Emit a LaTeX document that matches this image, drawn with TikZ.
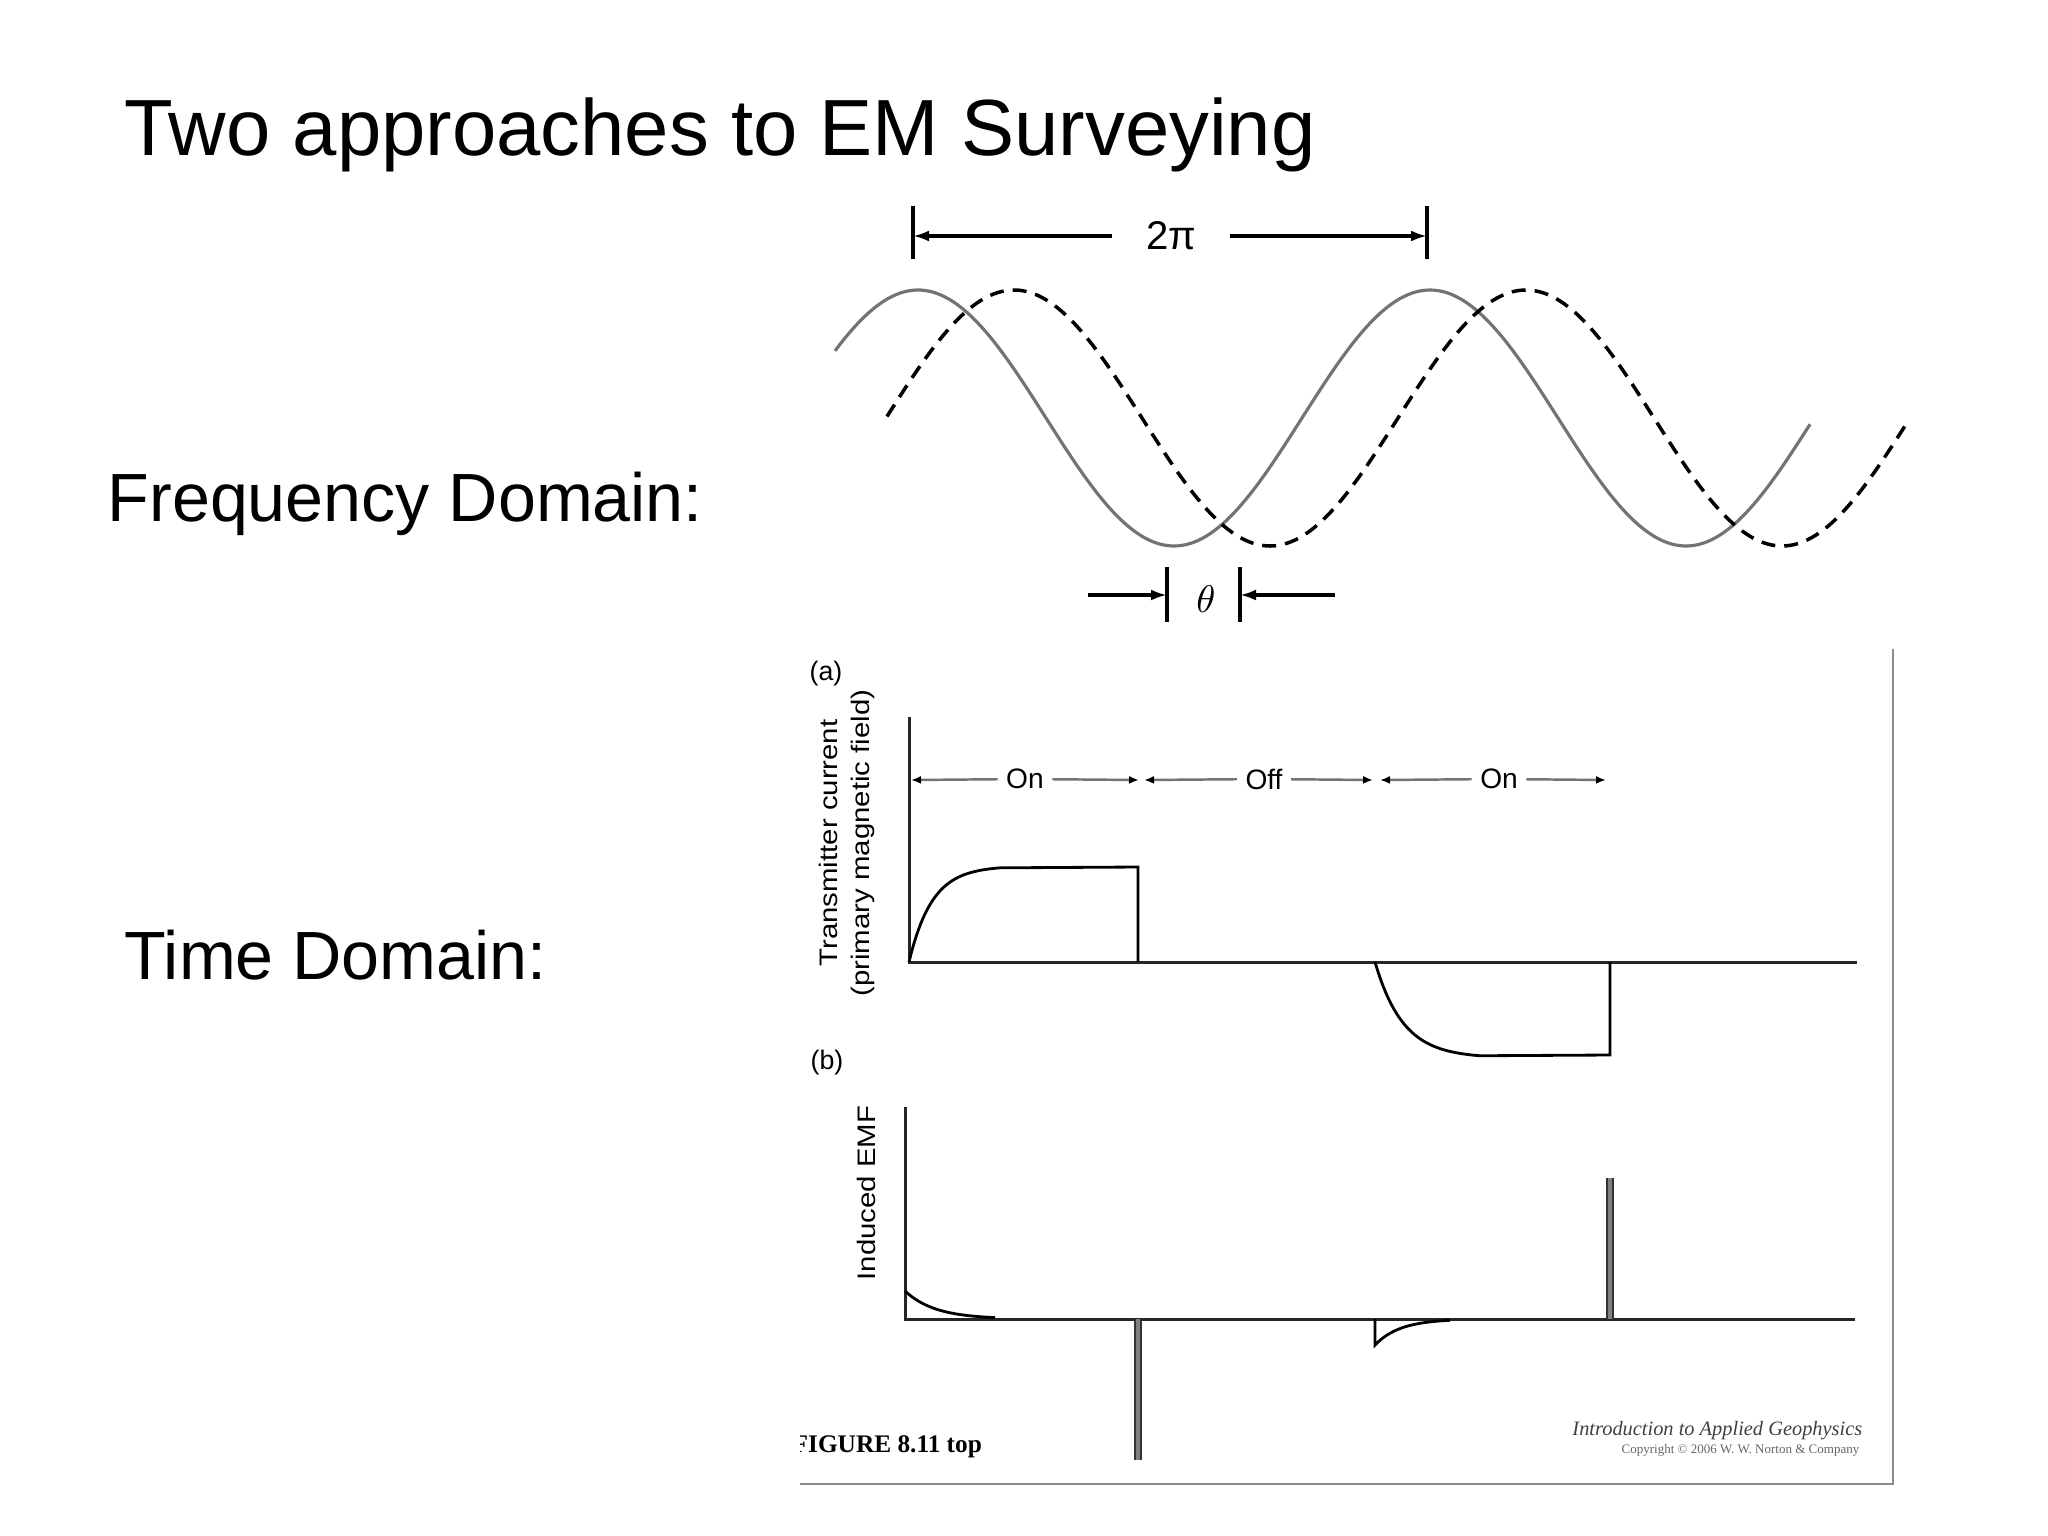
\documentclass[tikz,border=0pt]{standalone}
\usepackage{fontspec}
\setmainfont{Liberation Sans}
\newfontfamily\figserif{Liberation Serif}
\usetikzlibrary{arrows.meta}

\begin{document}
\begin{tikzpicture}[x=0.01cm, y=-0.01cm,
  slidetext/.style={anchor=base west, inner sep=0pt},
  solidwave/.style={draw=black!55, line width=0.9pt},
  dashwave/.style={draw=black, line width=1.0pt, dash pattern=on 0.14cm off 0.09cm},
  dimarrow/.style={line width=0.9pt, -{Latex[length=0.16cm, width=0.11cm]}},
  dimbar/.style={line width=0.9pt},
  axisline/.style={line width=0.85pt, black!85},
  pulse/.style={line width=0.8pt, black},
  spike/.style={line width=0.5pt, black!80, double=black!50, double distance=0.045cm},
  onoff/.style={font=\fontsize{8}{9}\selectfont, inner sep=0.08cm},
  gaparrow/.style={line width=0.7pt, black!55, -{Latex[length=0.1cm, width=0.08cm, color=black]}},
  figlabel/.style={font=\fontsize{7.6}{9}\selectfont, inner sep=0pt},
  framebox/.style={line width=0.8pt, black!45}
]
\path[fill=white] (0,0) rectangle (2048,1536);
\useasboundingbox (0,0) rectangle (2048,1536);

% slide text
\node[slidetext, font=\fontsize{22.65}{27}\selectfont] (title) at (124,155) {Two approaches to EM Surveying};
\node[slidetext, font=\fontsize{19.4}{23}\selectfont] (freq) at (107,521) {Frequency Domain:};
\node[slidetext, font=\fontsize{19.4}{23}\selectfont] (time) at (124,979) {Time Domain:};

% frequency domain: primary and secondary field
\draw[solidwave] plot[domain=835:1810, samples=240] (\x, {418-128*cos(0.703125*(\x-918))});
\draw[dashwave] plot[domain=887:1905, samples=240] (\x, {418-128*cos(0.703125*(\x-1014))});

% period marker
\node[font=\fontsize{11.4}{13}\selectfont, inner xsep=0.33cm] (twopi) at (1171,236) {2π};
\coordinate (tpl) at (913,236);
\coordinate (tpr) at (1427,236);
\draw[dimbar] (913,206) -- (913,259);
\draw[dimbar] (1427,206) -- (1427,259);
\draw[dimarrow] (twopi) -- (tpl);
\draw[dimarrow] (twopi) -- (tpr);

% phase marker
\node[font=\fontsize{11.4}{13}\selectfont] (theta) at (1206,599) {$\theta$};
\coordinate (thla) at (1088,595);
\coordinate (thlb) at (1167,595);
\coordinate (thra) at (1335,595);
\coordinate (thrb) at (1240,595);
\draw[dimbar] (1167,567) -- (1167,622);
\draw[dimbar] (1240,567) -- (1240,622);
\draw[dimarrow] (thla) -- (thlb);
\draw[dimarrow] (thra) -- (thrb);

% time domain figure
\node[figlabel] (parta) at (826,674) {(a)};
\node[figlabel, rotate=90, align=center, font=\fontsize{7.2}{9.1}\selectfont] (txlabel) at (847,843)
  {\scalebox{1.16}[1]{Transmitter current}\\\scalebox{1.16}[1]{(primary magnetic field)}};
\draw[axisline] (909,717) -- (909,962) -- (1857,962);

\node[onoff] (on1) at (1025,779) {On};
\node[onoff] (off) at (1264,779) {Off};
\node[onoff] (on2) at (1499,779) {On};
\coordinate (on1l) at (911,780);
\coordinate (on1r) at (1139,780);
\coordinate (offl) at (1144,780);
\coordinate (offr) at (1373,780);
\coordinate (on2l) at (1380,780);
\coordinate (on2r) at (1606,780);
\draw[gaparrow] (on1) -- (on1l);
\draw[gaparrow] (on1) -- (on1r);
\draw[gaparrow] (off) -- (offl);
\draw[gaparrow] (off) -- (offr);
\draw[gaparrow] (on2) -- (on2l);
\draw[gaparrow] (on2) -- (on2r);

\draw[pulse] plot[domain=909:1000, samples=40] (\x, {962-96*(1-exp(-(\x-909)/23))}) -- (1138,867) -- (1138,962);
\draw[pulse] plot[domain=1375:1480, samples=40] (\x, {962+96*(1-exp(-(\x-1375)/28))}) -- (1610,1055) -- (1610,962);

\node[figlabel] (partb) at (827,1063) {(b)};
\node[figlabel, rotate=90, font=\fontsize{7.2}{9.1}\selectfont] (emflabel) at (866,1193)
  {\scalebox{1.16}[1]{Induced EMF}};
\draw[axisline] (905,1107) -- (905,1319) -- (1855,1319);
\draw[pulse] plot[domain=905:995, samples=40] (\x, {1319-28*exp(-(\x-905)/30)});
\draw[pulse] (1375,1319) -- (1375,1345) -- plot[domain=1375:1450, samples=40] (\x, {1319+26*exp(-(\x-1375)/25)});
\draw[spike] (1138,1319) -- (1138,1460);
\draw[spike] (1610,1319) -- (1610,1178);

% caption and frame
\begin{scope}
  \clip (800,1400) rectangle (1000,1480);
  \node[slidetext, font=\figserif\bfseries\fontsize{7.2}{9}\selectfont] (figno) at (792,1452) {FIGURE 8.11 top};
\end{scope}
\node[anchor=base east, inner sep=0pt, font=\figserif\itshape\fontsize{5.8}{7}\selectfont, black!75] (book) at (1863,1435) {Introduction to Applied Geophysics};
\node[anchor=base east, inner sep=0pt, font=\figserif\fontsize{3.7}{5}\selectfont, black!60] (copy) at (1860,1453) {Copyright © 2006 W. W. Norton \& Company};
\draw[framebox] (1893,649) -- (1893,1484) -- (800,1484);
\end{tikzpicture}
\end{document}
